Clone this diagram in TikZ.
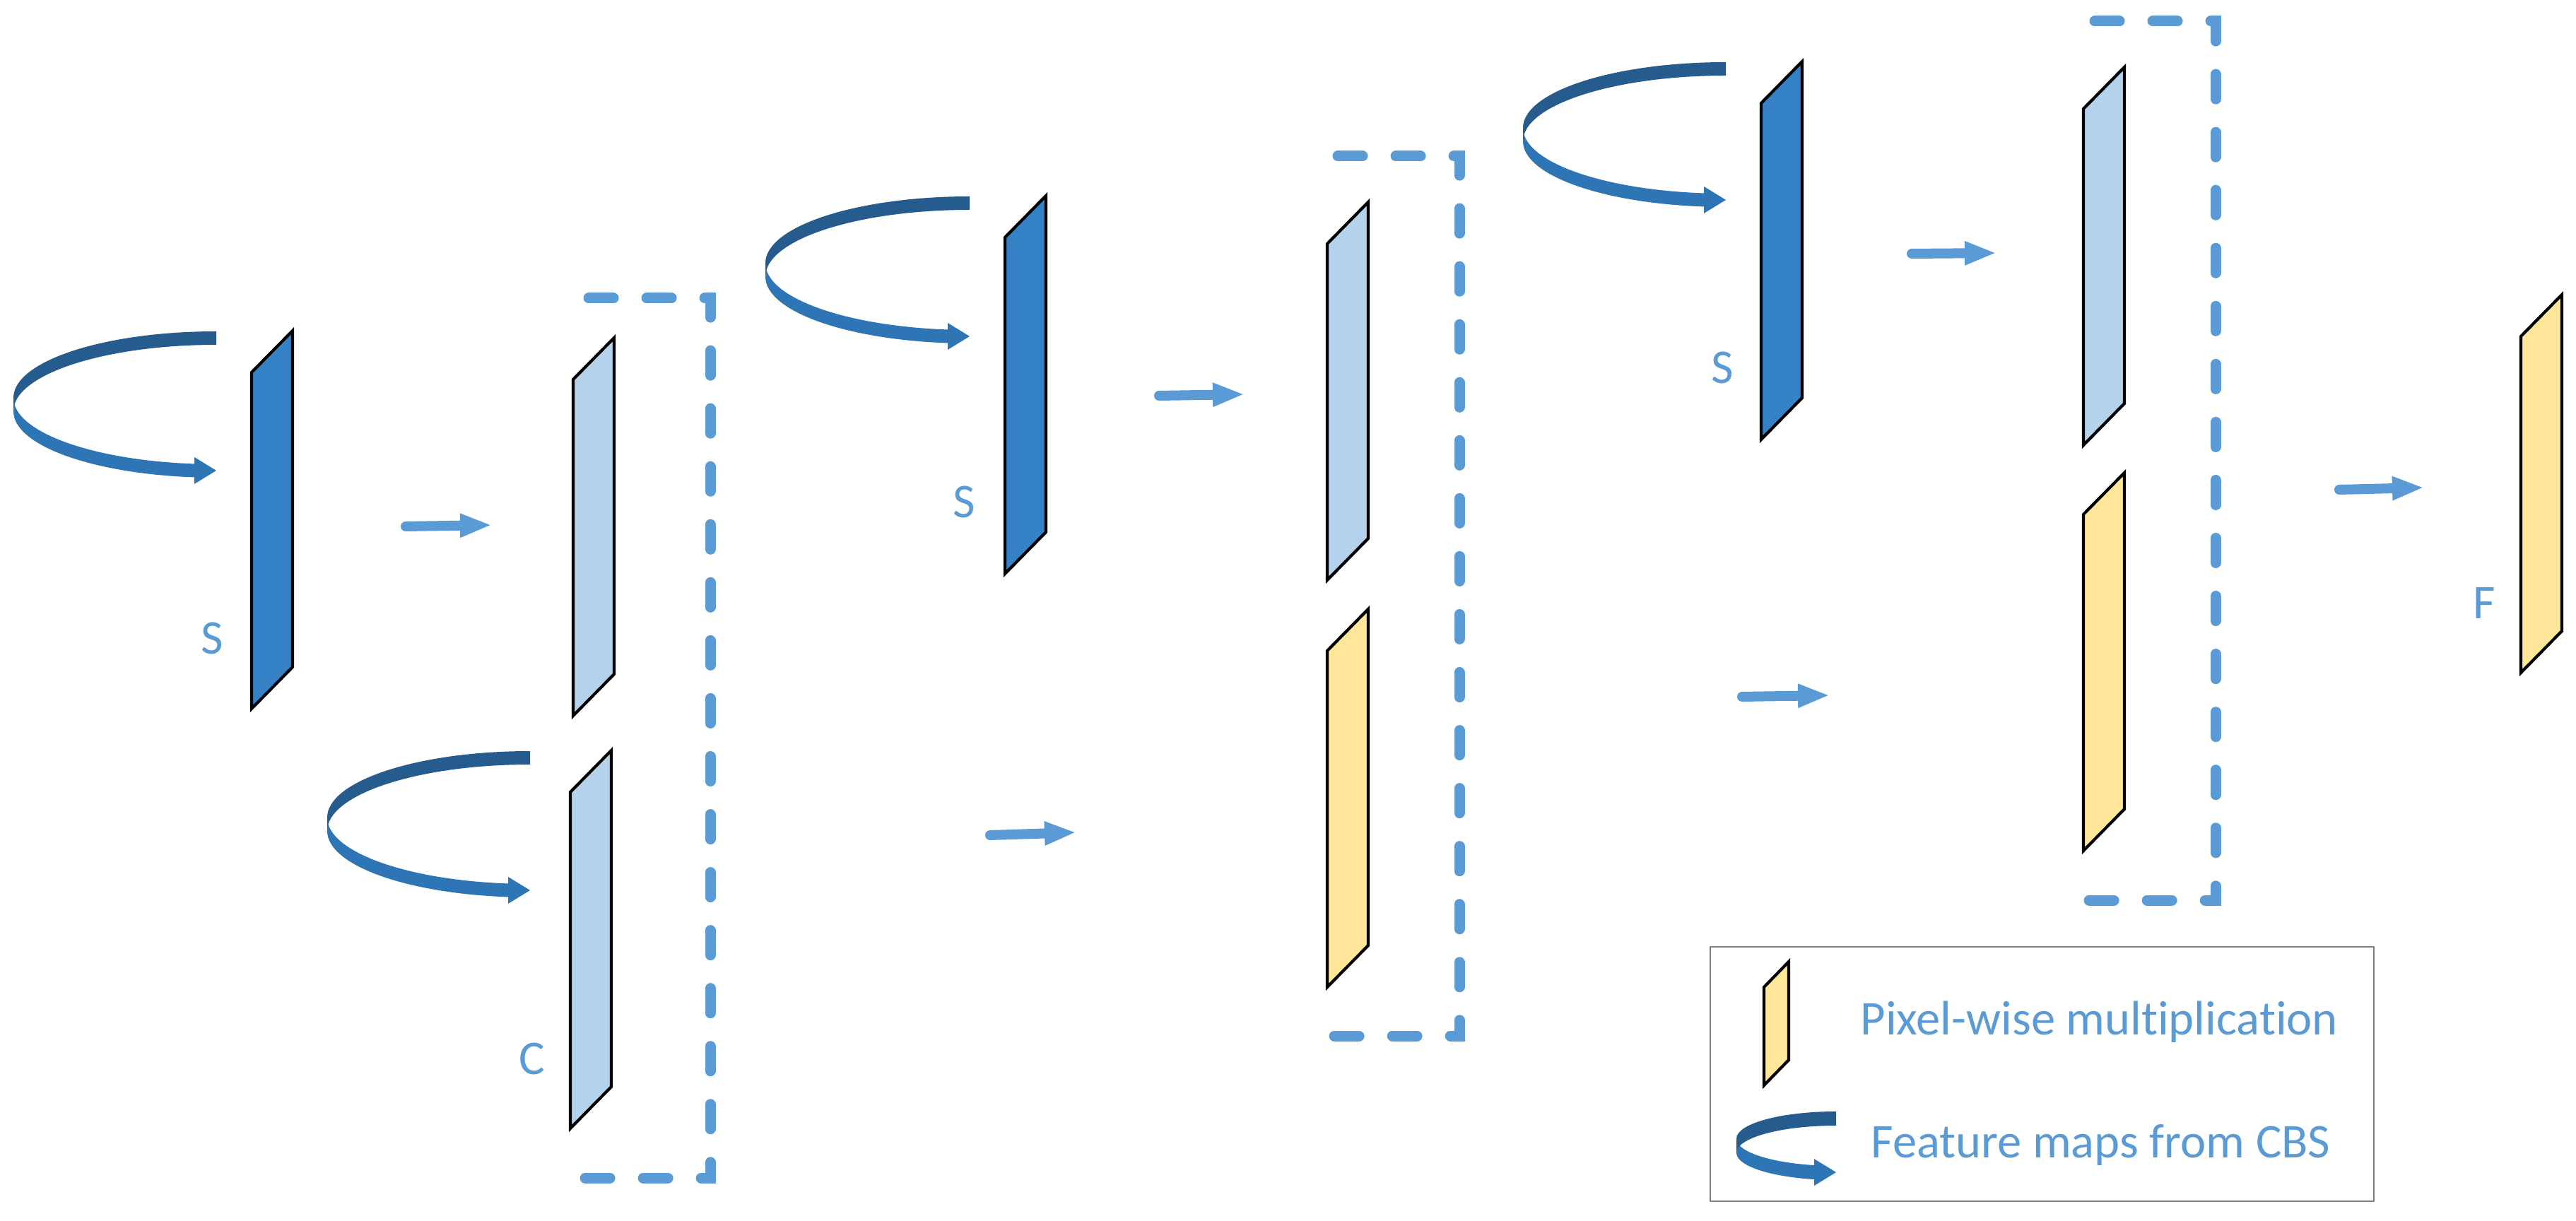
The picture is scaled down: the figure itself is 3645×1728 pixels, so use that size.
\documentclass[tikz,border=0pt]{standalone}
\usepackage{fontspec}
\setmainfont{Carlito}[Ligatures=NoCommon]
\usetikzlibrary{arrows.meta}

\definecolor{mapdark}{HTML}{3481C6}
\definecolor{maplight}{HTML}{B4D2EC}
\definecolor{mapyellow}{HTML}{FFE699}
\definecolor{textblue}{HTML}{5B9BD5}
\definecolor{cbsdark}{HTML}{265B8D}
\definecolor{cbslight}{HTML}{2E75B6}

% feature map: name, fill, left x, top right y
\newcommand{\fmap}[4]{%
	\coordinate (#1) at (#3+29,#4+268);
	\draw[fmapline, fill=#2] (#3,#4+59) -- (#3+58,#4) -- (#3+58,#4+476) -- (#3,#4+535) -- cycle;}

% curved arrow: tip x, top y, x radius, y radius, thickness
\newcommand{\cbsarrow}[5]{%
	\pgfmathsetmacro{\cbsang}{acos(-31/#3)}
	\fill[cbslight] (#1-#3,#2+#4) arc[start angle=180, end angle=\cbsang, x radius=#3, y radius=#4]
		-- ++(0,#5/2-19) -- ++(31,19) -- ++(-31,19) -- ++(0,#5/2-19)
		arc[start angle=\cbsang, end angle=180, x radius=#3, y radius=#4] -- cycle;
	\fill[cbsdark] (#1,#2) arc[start angle=270, end angle=180, x radius=#3, y radius=#4]
		-- ++(0,#5) arc[start angle=180, end angle=270, x radius=#3, y radius=#4] -- cycle;}

\begin{document}
\begin{tikzpicture}[x=0.01cm, y=-0.01cm,
	fmapline/.style={draw=black, line width=0.042cm},
	flow/.style={draw=textblue, line width=0.14cm, line cap=round, -{Triangle[length=0.45cm, width=0.31cm]}},
	dbox/.style={draw=textblue, line width=0.15cm, line cap=round, dash pattern=on 0.35cm off 0.47cm},
	lbl/.style={text=textblue, font=\fontsize{19.5}{23}\selectfont, inner sep=0pt}]
	\useasboundingbox (0,0) rectangle (3645,1728);
	
	%curved arrows
	\cbsarrow{306}{469}{287}{94}{19}
	\cbsarrow{750}{1063}{287}{94}{19}
	\cbsarrow{1372}{278}{289}{94.5}{19}
	\cbsarrow{2442}{88}{287}{93}{19}
	
	%maps
	\fmap{m1}{mapdark}{356}{468}
	\fmap{m2a}{maplight}{811}{478}
	\fmap{m2b}{maplight}{807}{1062}
	\fmap{m3}{mapdark}{1422}{277}
	\fmap{m3a}{maplight}{1878}{286}
	\fmap{m3b}{mapyellow}{1878}{862}
	\fmap{m4}{mapdark}{2492}{87}
	\fmap{m4a}{maplight}{2948}{95}
	\fmap{m4b}{mapyellow}{2948}{669}
	\fmap{mf}{mapyellow}{3567}{417}
	
	%labels
	\node[lbl, anchor=base] (s1) at (300,925) {S};
	\node[lbl, anchor=base] (c1) at (753,1520) {C};
	\node[lbl, anchor=base] (s2) at (1364,733) {S};
	\node[lbl, anchor=base] (s3) at (2437,543) {S};
	\node[lbl, anchor=base] (f1) at (3515,875) {F};
	
	%arrows
	\coordinate (a1s) at (574,745); \coordinate (a1e) at (696,743);
	\coordinate (a2s) at (1401,1182); \coordinate (a2e) at (1523,1178);
	\coordinate (a3s) at (1640,560); \coordinate (a3e) at (1761,558);
	\coordinate (a4s) at (2705,359); \coordinate (a4e) at (2825,358);
	\coordinate (a5s) at (2465,986); \coordinate (a5e) at (2589,984);
	\coordinate (a6s) at (3310,693); \coordinate (a6e) at (3430,690);
	\draw[flow] (a1s) -- (a1e);
	\draw[flow] (a2s) -- (a2e);
	\draw[flow] (a3s) -- (a3e);
	\draw[flow] (a4s) -- (a4e);
	\draw[flow] (a5s) -- (a5e);
	\draw[flow] (a6s) -- (a6e);
	
	%dashed boxes
	\draw[dbox] (833,422) -- (1005,422) -- (1005,1667) -- (822,1667);
	\draw[dbox] (1893,221) -- (2065,221) -- (2065,1466) -- (1882,1466);
	\draw[dbox] (2964,30) -- (3135,30) -- (3135,1274) -- (2951,1274);
	
	%legend
	\draw[draw=black!50, line width=0.025cm] (2420,1340) rectangle (3359,1700);
	\draw[fmapline, fill=mapyellow] (2496,1397) -- (2531,1361) -- (2531,1500) -- (2496,1536) -- cycle;
	\cbsarrow{2598}{1573}{141}{38.5}{20}
	\node[lbl, anchor=base west] (leg1) at (2632,1464) {Pixel-wise multiplication};
	\node[lbl, anchor=base west] (leg2) at (2647,1638) {Feature maps from CBS};
\end{tikzpicture}
\end{document}
